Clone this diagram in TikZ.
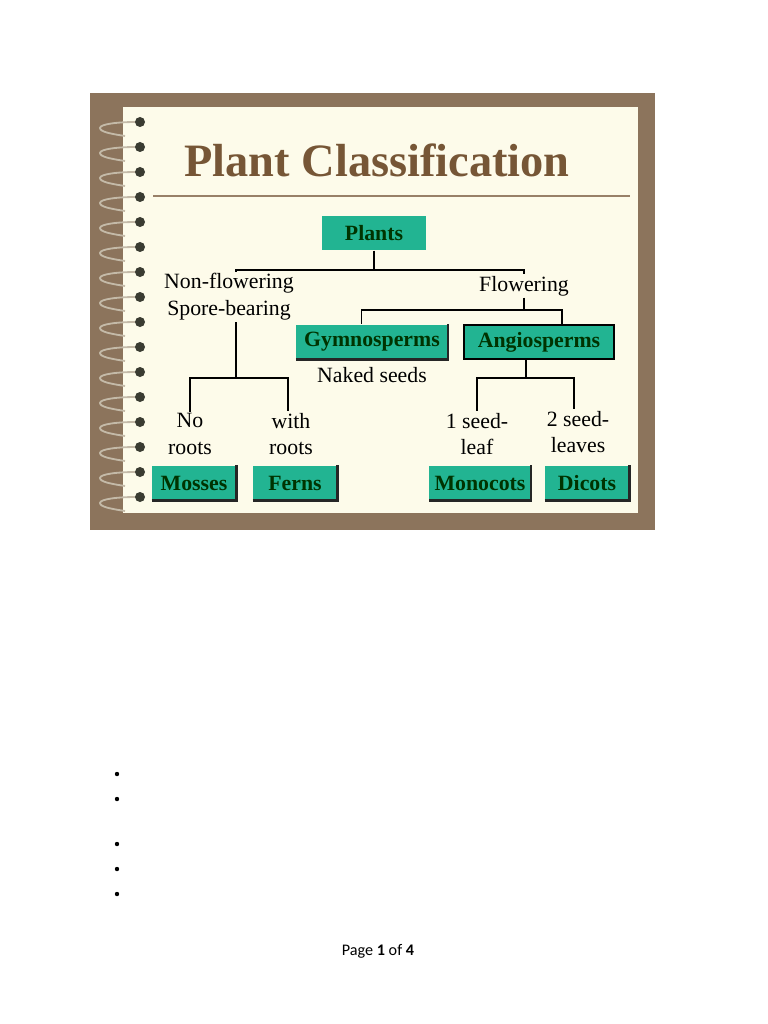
\documentclass[tikz,border=0pt]{standalone}
\usepackage{fontspec}
\setmainfont{Liberation Serif}
\newfontfamily\pagefont{Carlito}
\usetikzlibrary{positioning,calc}

\definecolor{framebrown}{RGB}{140,116,92}
\definecolor{paper}{RGB}{253,251,234}
\definecolor{leafgreen}{RGB}{34,180,146}
\definecolor{titlebrown}{RGB}{118,86,54}
\definecolor{coilgray}{RGB}{196,186,168}
\definecolor{ringdot}{RGB}{58,60,50}

\begin{document}
\begin{tikzpicture}[x=0.025cm, y=-0.025cm,
    box/.style={fill=leafgreen, minimum width=#1, minimum height=24.5pt, inner sep=0pt,
      text=black!80!green, font=\fontsize{15.5}{17}\selectfont\bfseries},
    lab/.style={align=center, inner sep=1pt, font=\fontsize{15.5}{19}\selectfont},
    link/.style={line width=1.1pt, black},
    edge/.style={line width=1.6pt, black!85},
    coil/.style={line width=1.3pt, coilgray}
  ]
    \fill[white] (0,0) rectangle (768,1024);
    \useasboundingbox (0,0) rectangle (768,1024);

    % notebook frame and page
    \fill[framebrown] (90,93) rectangle (655,530);
    \fill[paper] (123,107) rectangle (638,513);
    \foreach \y in {122,147,...,497} {
      \draw[coil] (136,\y) .. controls (118,\y) and (100,\y+2) .. (100,\y+6)
        .. controls (100,\y+10) and (112,\y+12) .. (125,\y+14);
      \fill[ringdot] (140,\y) circle (5);
    }

    \node[font=\fontsize{33}{36}\selectfont\bfseries, text=titlebrown] (title) at (377,160)
      {Plant Classification};
    \draw[titlebrown!75, line width=0.8pt] (153,196) -- (630,196);

    \node[box=74pt] (plants) at (374,233) {Plants};
    \node[lab] (nonflow) at (229,297) {Non-flowering\\Spore-bearing};
    \node[lab] (flowering) at (524,286) {Flowering};
    \node[box=108pt] (gymno) at (372,342) {Gymnosperms};
    \node[box=107pt, draw=black, line width=1.4pt] (angio) at (539,342) {Angiosperms};
    \node[lab] (naked) at (372,375) {Naked seeds};

    \node[lab] (noroots) at (190,434) {No\\roots};
    \node[lab] (withroots) at (291,434) {with\\roots};
    \node[lab] (oneseed) at (477,434) {1 seed-\\leaf};
    \node[lab] (twoseed) at (578,432) {2 seed-\\leaves};

    \node[box=60pt] (mosses) at (194,483) {Mosses};
    \node[box=60pt] (ferns) at (295,483) {Ferns};
    \node[box=72pt] (monocots) at (480,483) {Monocots};
    \node[box=60pt] (dicots) at (587,483) {Dicots};

    \foreach \n in {gymno, mosses, ferns, monocots, dicots}
      \draw[edge] (\n.south west) -- (\n.south east) -- (\n.north east);

    % branch rows
    \coordinate (rowA) at (0,270);
    \coordinate (rowB) at (0,310);
    \coordinate (rowC) at (0,378);

    \draw[link] (plants.south) -- (plants.south |- rowA) -| ([xshift=0.17cm]nonflow.north);
    \draw[link] (plants.south |- rowA) -| (flowering.north);
    \draw[link] (flowering.south) -- (flowering.south |- rowB) -| ([xshift=-0.26cm]gymno.north);
    \draw[link] (flowering.south |- rowB) -| ([xshift=0.575cm]angio.north);

    \draw[link] ([xshift=0.17cm]nonflow.south) -- ([xshift=0.17cm]nonflow.south |- rowC)
      -| (noroots.north);
    \draw[link] ([xshift=0.17cm]nonflow.south |- rowC) -| ([xshift=-0.08cm]withroots.north);
    \draw[link] ([xshift=-0.325cm]angio.south) -- ([xshift=-0.325cm]angio.south |- rowC)
      -| (oneseed.north);
    \draw[link] ([xshift=-0.325cm]angio.south |- rowC) -| ([xshift=-0.1cm]twoseed.north);

    % list bullets below the picture
    \foreach \y in {774,799,844,869,894}
      \fill (117,\y) circle (2.2);

    \node[font=\pagefont\fontsize{11.5}{14}\selectfont] (page) at (378,951)
      {Page \textbf{1} of \textbf{4}};
  \end{tikzpicture}
\end{document}
